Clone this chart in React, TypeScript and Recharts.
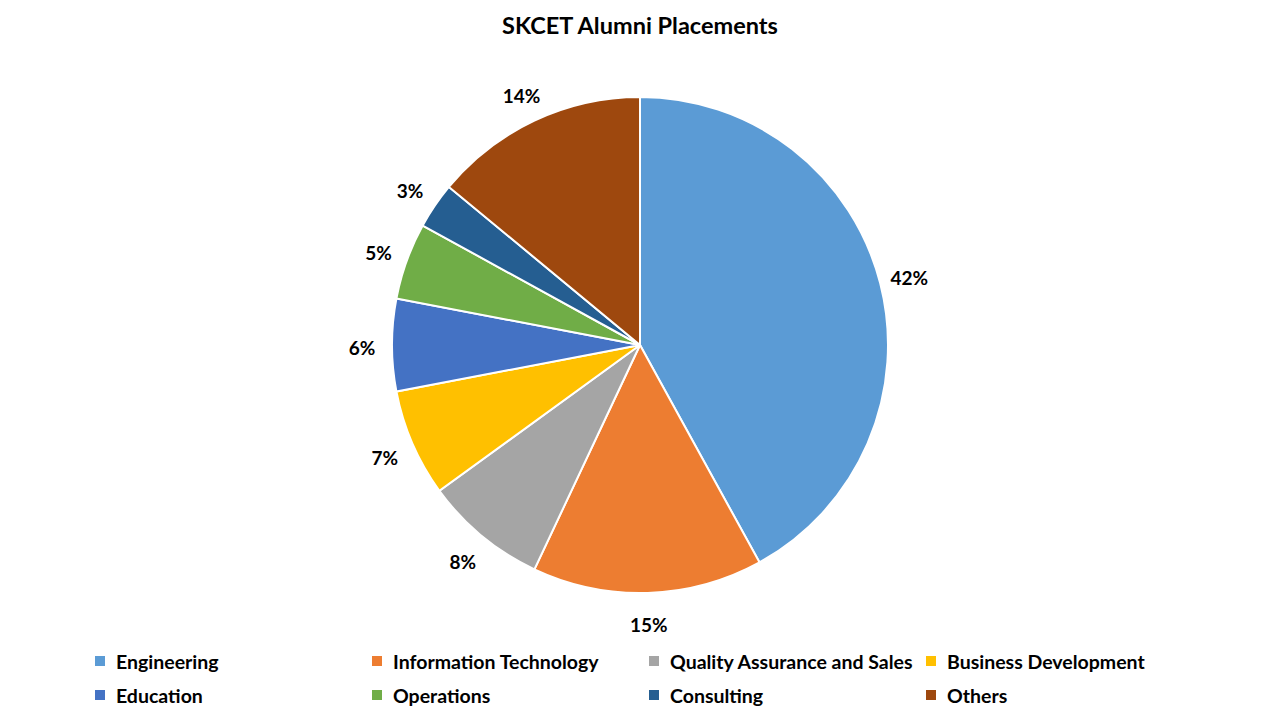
import React from 'react';
import { PieChart, Pie, Cell, Legend } from 'recharts';

// --- SKCET placements data ---
const categories = [
  'Engineering',
  'Information Technology',
  'Quality Assurance and Sales',
  'Business Development',
  'Education',
  'Operations',
  'Consulting',
  'Others',
];
const shares = [42, 15, 8, 7, 6, 5, 3, 14];
const colors = ['#5B9BD5', '#ED7D31', '#A5A5A5', '#FFC000', '#4472C4', '#70AD47', '#255E91', '#9E480E'];

const pieData = categories.map((name, i) => ({ name, value: shares[i] }));

const FONT = 'Lato, "Open Sans", sans-serif';
const RAD = Math.PI / 180;

const renderLabel = (props: any) => {
  const { cx, cy, midAngle, outerRadius, value } = props;
  const r = outerRadius + 30;
  const x = cx + r * Math.cos(-midAngle * RAD);
  const y = cy + r * Math.sin(-midAngle * RAD) + 2;
  return (
    <text x={x} y={y} textAnchor="middle" dominantBaseline="central" fill="#000" fontSize={19} fontWeight={700} fontFamily={FONT}>
      {`${value}%`}
    </text>
  );
};

const renderLegend = () => (
  <div style={{ display: 'grid', gridTemplateColumns: 'repeat(4, 277px)', rowGap: 12, fontFamily: FONT, fontWeight: 700, fontSize: 19.5, color: '#000' }}>
    {categories.map((name, i) => (
      <div key={name} style={{ display: 'flex', alignItems: 'center', height: 22, whiteSpace: 'nowrap' }}>
        <span style={{ width: 10, height: 10, background: colors[i], marginRight: 11, display: 'inline-block', flex: 'none' }} />
        <span>{name}</span>
      </div>
    ))}
  </div>
);

export default function App() {
  return (
    <div style={{ position: 'absolute', left: 0, top: 0, width: 1280, height: 720, background: '#fff' }}>
      <div style={{ position: 'absolute', left: 0, top: 11, width: 1280, textAlign: 'center', fontFamily: FONT, fontWeight: 700, fontSize: 23.5, color: '#000' }}>
        SKCET Alumni Placements
      </div>
      <PieChart width={1280} height={720} margin={{ top: 0, right: 0, bottom: 0, left: 0 }}>
        <Pie
          data={pieData}
          dataKey="value"
          nameKey="name"
          cx={640}
          cy={345}
          outerRadius={248}
          startAngle={90}
          endAngle={-270}
          stroke="#fff"
          strokeWidth={2}
          label={renderLabel}
          labelLine={false}
          isAnimationActive={false}
        >
          {pieData.map((entry, i) => (
            <Cell key={entry.name} fill={colors[i]} />
          ))}
        </Pie>
        <Legend content={renderLegend} wrapperStyle={{ position: 'absolute', left: 95, top: 650, width: 1160 }} />
      </PieChart>
    </div>
  );
}
